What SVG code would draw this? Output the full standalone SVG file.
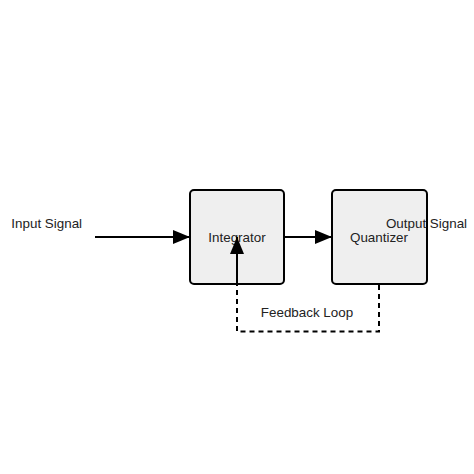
<svg xmlns="http://www.w3.org/2000/svg" width="474" height="474" viewBox="0 0 474 474">
<defs>
<style>
.node{fill:#efefef;stroke:#000;stroke-width:2}
.lbl{font-family:"Liberation Sans",Arial,sans-serif;font-size:13.4px;fill:#222;text-anchor:middle}
.edge{fill:none;stroke:#000;stroke-width:2}
.dash{stroke-dasharray:5,4}
</style>
<marker id="arr" viewBox="0 0 17 14" refX="17" refY="7" markerWidth="17" markerHeight="14" markerUnits="userSpaceOnUse" orient="auto">
<path d="M0,0 L17,7 L0,14 Z" fill="#000"/>
</marker>
</defs>
<rect width="474" height="474" fill="#fff"/>
<g id="integrator">
<rect class="node" x="190" y="190" width="94" height="94" rx="4"/>
<text class="lbl" x="237" y="241.5">Integrator</text>
</g>
<g id="quantizer">
<rect class="node" x="332" y="190" width="95" height="94" rx="4"/>
<text class="lbl" x="379" y="241.5">Quantizer</text>
</g>
<g id="connectors">
<line class="edge" x1="95" y1="237" x2="190" y2="237" marker-end="url(#arr)"/>
<line class="edge" x1="284" y1="237" x2="332" y2="237" marker-end="url(#arr)"/>
<path class="edge dash" d="M379,285 L379,331.5 L237,331.5 L237,285"/>
<line class="edge" x1="237" y1="284" x2="237" y2="237" marker-end="url(#arr)"/>
</g>
<g id="labels">
<text class="lbl" x="46.7" y="227.5">Input Signal</text>
<text class="lbl" x="426.5" y="227.5">Output Signal</text>
<text class="lbl" x="307" y="317">Feedback Loop</text>
</g>
</svg>
